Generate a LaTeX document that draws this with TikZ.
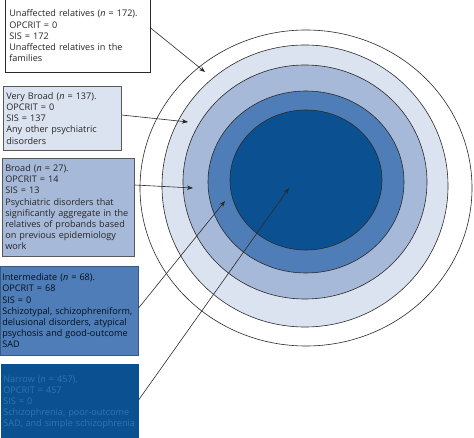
\documentclass[tikz,border=0pt]{standalone}
\usepackage{fontspec}
\setmainfont{Open Sans}
\usetikzlibrary{arrows.meta,calc}
\definecolor{ringA}{HTML}{DCE3F0}
\definecolor{ringB}{HTML}{A6B9D8}
\definecolor{ringC}{HTML}{4F7DB7}
\definecolor{ringD}{HTML}{0B5191}
\definecolor{lineC}{HTML}{2A2A2A}
\definecolor{narrowtext}{HTML}{3174B9}
\begin{document}
\begin{tikzpicture}[x=1pt,y=-1pt,
  ring/.style={draw=lineC,line width=0.6pt},
  infobox/.style={draw=lineC,line width=0.6pt,anchor=north west,align=left,
    inner xsep=5pt,inner ysep=1pt,font=\fontsize{9.1}{11.2}\selectfont,text=black!85},
  pointer/.style={draw=lineC,line width=0.6pt,-{Stealth[length=6pt,width=4.5pt]}}]
\useasboundingbox (0,0) rectangle (474,438);
% rings
\draw[ring,fill=white] (306,188) ellipse [x radius=166pt,y radius=158pt];
\draw[ring,fill=ringA] (305,186) ellipse [x radius=143pt,y radius=141pt];
\draw[ring,fill=ringB] (305,182) ellipse [x radius=122pt,y radius=117pt];
\draw[ring,fill=ringC] (306,182) ellipse [x radius=98pt,y radius=91pt];
\draw[ring,fill=ringD] (306,180) ellipse [x radius=76pt,y radius=70pt];
% boxes
\node[infobox,fill=white,minimum width=144pt,minimum height=73pt,text width=137pt,inner xsep=4pt] (b1) at (5,-1)
  {Unaffected relatives (\textit{n} = 172).\\OPCRIT = 0\\SIS = 172\\Unaffected relatives in the\\families};
\node[infobox,fill=ringA,draw=black!65,minimum width=117pt,minimum height=64pt,text width=112pt,inner xsep=3pt] (b2) at (3,86)
  {Very Broad (\textit{n} = 137).\\OPCRIT = 0\\SIS = 137\\Any other psychiatric\\disorders};
\node[infobox,fill=ringB,draw=black!65,minimum width=130pt,minimum height=98pt,text width=126pt,inner xsep=3pt] (b3) at (2,158)
  {Broad (\textit{n} = 27).\\OPCRIT = 14\\SIS = 13\\Psychiatric disorders that\\significantly aggregate in the\\relatives of probands based\\on previous epidemiology\\work};
\node[infobox,fill=ringC,draw=ringC!70!black,minimum width=137pt,minimum height=89pt,text width=134pt,inner xsep=2pt,text=black!80!ringD] (b4) at (0,266)
  {Intermediate (\textit{n} = 68).\\OPCRIT = 68\\SIS = 0\\Schizotypal, schizophreniform,\\delusional disorders, atypical\\psychosis and good-outcome\\SAD};
\node[infobox,fill=ringD,draw=ringD,minimum width=136pt,minimum height=76pt,text width=133pt,inner xsep=2pt,text=narrowtext] (b5) at (1,364)
  {Narrow (\textit{n} = 457).\\OPCRIT = 457\\SIS = 0\\Schizophrenia, poor-outcome\\SAD, and simple schizophrenia};
% arrow tips
\coordinate (t1) at (205,72);
\coordinate (t2) at (188,122);
\coordinate (t3) at (193,188);
\coordinate (t4) at (225,201);
\coordinate (t5) at (289,188);
\draw[pointer] ([yshift=-29pt]b1.north east) -- (t1);
\draw[pointer] ([yshift=-29pt]b2.north east) -- (t2);
\draw[pointer] ([yshift=-27pt]b3.north east) -- (t3);
\draw[pointer] ([yshift=-42pt]b4.north east) -- (t4);
\draw[pointer] ([yshift=-36pt]b5.north east) -- (t5);
\end{tikzpicture}
\end{document}
